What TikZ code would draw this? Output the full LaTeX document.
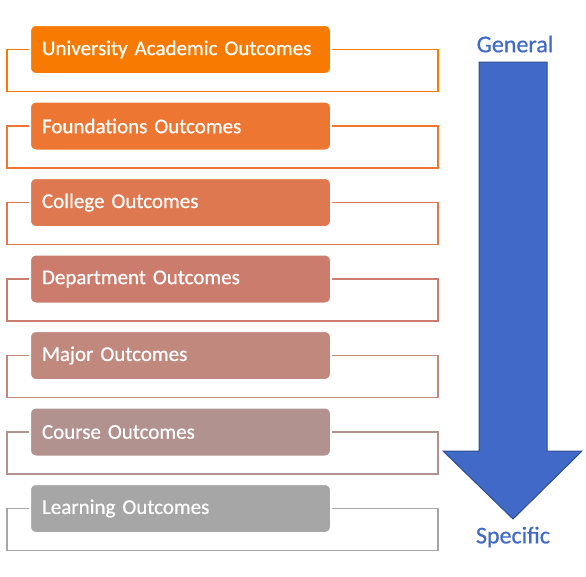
\documentclass[tikz,border=0pt]{standalone}
\usepackage{fontspec}
\setmainfont{Carlito}[FakeBold=0.6, WordSpace=0.75]
\usetikzlibrary{positioning}

\definecolor{lvl1}{HTML}{F97A00}
\definecolor{lvl2}{HTML}{EC7632}
\definecolor{lvl3}{HTML}{DE7850}
\definecolor{lvl4}{HTML}{CC7C6C}
\definecolor{lvl5}{HTML}{C1887E}
\definecolor{lvl6}{HTML}{B2928E}
\definecolor{lvl7}{HTML}{A6A6A6}
\definecolor{arrowblue}{HTML}{4169C8}
\definecolor{arrowedge}{HTML}{2F4F8F}

\tikzset{
    level/.style={rounded corners=6pt, minimum width=301pt, minimum height=49pt,
        text width=277pt, inner xsep=12pt, align=left, anchor=west,
        draw=white, line width=2pt, text=white,
        font=\fontsize{21}{24}\selectfont},
    levelframe/.style={line width=1.5pt},
    scalelabel/.style={text=arrowblue, font=\fontsize{24}{28}\selectfont}
}

\begin{document}
\begin{tikzpicture}[x=1pt, y=-1pt]
    \useasboundingbox (0,0) rectangle (586,576);
    % nested levels, broad to narrow
    \foreach \i/\txt in {1/University Academic Outcomes,
                         2/Foundations Outcomes,
                         3/College Outcomes,
                         4/Department Outcomes,
                         5/Major Outcomes,
                         6/Course Outcomes,
                         7/Learning Outcomes}{
        \pgfmathsetmacro{\ypos}{49.5+76.5*(\i-1)}
        \draw[levelframe, draw=lvl\i] (7,\ypos) rectangle (438,\ypos+42);
        \node[level, fill=lvl\i] (o\i) at (29,\ypos) {\txt};
    }
    % general -> specific
    \node[scalelabel] (general) at (515,44) {General};
    \node[scalelabel] (specific) at (513,537) {Specific};
    \draw[fill=arrowblue, draw=arrowedge, line width=1pt, line join=miter]
        (479,62) -- (547,62) -- (547,451) -- (582,451) -- (513,519)
        -- (443,451) -- (479,451) -- cycle;
\end{tikzpicture}
\end{document}
